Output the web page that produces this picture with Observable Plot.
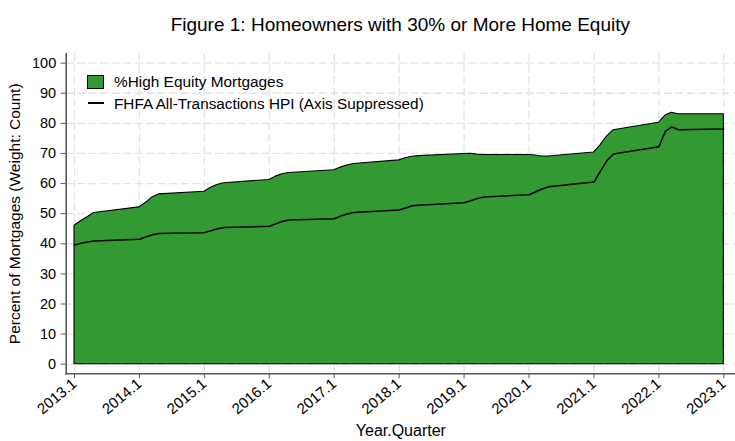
<!DOCTYPE html>
<html>
<head>
<meta charset="utf-8">
<script src="https://cdn.jsdelivr.net/npm/d3@7"></script>
<script src="https://cdn.jsdelivr.net/npm/@observablehq/plot@0.6"></script>
<style>
  html, body { margin: 0; padding: 0; background: white; }
  #wrap { position: relative; width: 735px; height: 441px; font-family: "Liberation Sans", Arial, sans-serif; overflow: hidden; }
  #title { position: absolute; left: 65.7px; right: 0; top: 14px; text-align: center; font-size: 19px; color: black; white-space: nowrap; }
  .leg { position: absolute; color: black; white-space: nowrap; line-height: 1; }
  .sw { position: absolute; box-sizing: border-box; }
</style>
</head>
<body>
<div id="wrap">
  <div id="chart"></div>
  <div id="title">Figure 1: Homeowners with 30% or More Home Equity</div>
  <div class="sw" style="left:87px;top:74.5px;width:17px;height:14.5px;background:#339933;border:1px solid black;"></div>
  <div class="leg" style="left:114px;top:74px;font-size:15.4px;">%High Equity Mortgages</div>
  <div class="sw" style="left:88px;top:102px;width:16px;height:1.5px;background:black;"></div>
  <div class="leg" style="left:114px;top:95.5px;font-size:15.3px;">FHFA All-Transactions HPI (Axis Suppressed)</div>
</div>
<script>
// Year.Quarter values (plotted numerically, as in the source)
const quarters = [
  2013.1, 2013.2, 2013.3, 2013.4,
  2014.1, 2014.2, 2014.3, 2014.4,
  2015.1, 2015.2, 2015.3, 2015.4,
  2016.1, 2016.2, 2016.3, 2016.4,
  2017.1, 2017.2, 2017.3, 2017.4,
  2018.1, 2018.2, 2018.3, 2018.4,
  2019.1, 2019.2, 2019.3, 2019.4,
  2020.1, 2020.2, 2020.3, 2020.4,
  2021.1, 2021.2, 2021.3, 2021.4,
  2022.1, 2022.2, 2022.3, 2022.4,
  2023.1
];
// % High Equity Mortgages
const highEquity = [
  46.0, 47.5, 48.8, 50.2,
  52.1, 53.6, 55.4, 56.4,
  57.3, 58.6, 59.5, 60.1,
  61.2, 62.3, 63.1, 63.5,
  64.4, 65.3, 66.0, 66.5,
  67.7, 68.4, 68.9, 69.1,
  69.8, 69.9, 69.6, 69.5,
  69.5, 69.3, 69.0, 69.0,
  70.3, 72.7, 75.6, 77.7,
  80.2, 82.6, 83.5, 83.0,
  83.0
];
// FHFA All-Transactions HPI (rescaled, axis suppressed)
const hpi = [
  39.6, 40.2, 40.6, 40.9,
  41.5, 42.3, 43.0, 43.4,
  43.7, 44.3, 45.0, 45.4,
  45.8, 46.6, 47.4, 47.9,
  48.3, 49.2, 49.9, 50.4,
  51.2, 51.9, 52.6, 52.8,
  53.6, 54.3, 55.0, 55.5,
  56.3, 57.2, 58.2, 58.9,
  60.5, 64.1, 67.6, 69.8,
  72.2, 77.3, 78.8, 77.9,
  78.1
];
const xTicks = [2013.1, 2014.1, 2015.1, 2016.1, 2017.1, 2018.1, 2019.1, 2020.1, 2021.1, 2022.1, 2023.1];
const xTickLabels = ["2013.1", "2014.1", "2015.1", "2016.1", "2017.1", "2018.1", "2019.1", "2020.1", "2021.1", "2022.1", "2023.1"];
const yTicks = [0, 10, 20, 30, 40, 50, 60, 70, 80, 90, 100];
const yLabel = "Percent of Mortgages (Weight: Count)";
const xLabel = "Year.Quarter";

const data = quarters.map((q, i) => ({q, high: highEquity[i], hpi: hpi[i]}));

const gridStyle = {stroke: "#e3e3e3", strokeOpacity: 1, strokeWidth: 1.3, strokeDasharray: "8,3.5"};
const axisColor = "#5a5a5a";

const chart = Plot.plot({
  width: 735,
  height: 441,
  marginTop: 53.3,
  marginBottom: 67.7,
  marginLeft: 65.7,
  marginRight: 0,
  x: {domain: [2012.972, 2023.28]},
  y: {domain: [-3.19, 103.1]},
  style: {fontFamily: "'Liberation Sans', Arial, sans-serif", fontSize: "14px", color: "black", background: "white", overflow: "visible"},
  marks: [
    Plot.gridY(yTicks, gridStyle),
    Plot.gridX(xTicks, gridStyle),
    Plot.areaY(data, {x: "q", y: "high", fill: "#339933", stroke: "black", strokeWidth: 1.1}),
    Plot.lineY(data, {x: "q", y: "hpi", stroke: "black", strokeWidth: 1.5}),
    Plot.frame({anchor: "left", stroke: axisColor, strokeWidth: 1.6}),
    Plot.frame({anchor: "bottom", stroke: axisColor, strokeWidth: 1.6}),
    Plot.axisY(yTicks, {
      tickSize: 5, tickPadding: 5, fontSize: 14.5, stroke: axisColor, fill: "black", label: null
    }),
    Plot.axisX(xTicks, {
      tickSize: 5, tickPadding: 3, tickRotate: -40, fontSize: 15, stroke: axisColor, fill: "black",
      tickFormat: d => xTickLabels[xTicks.indexOf(d)], label: null
    }),
    Plot.text([yLabel], {frameAnchor: "left", textAnchor: "middle", lineAnchor: "middle", rotate: -90, dx: -51, fontSize: 15.5, fill: "black"}),
    Plot.text([xLabel], {frameAnchor: "bottom", textAnchor: "middle", dy: 62, fontSize: 16, fill: "black"})
  ]
});
document.getElementById("chart").appendChild(chart);
</script>
</body>
</html>
